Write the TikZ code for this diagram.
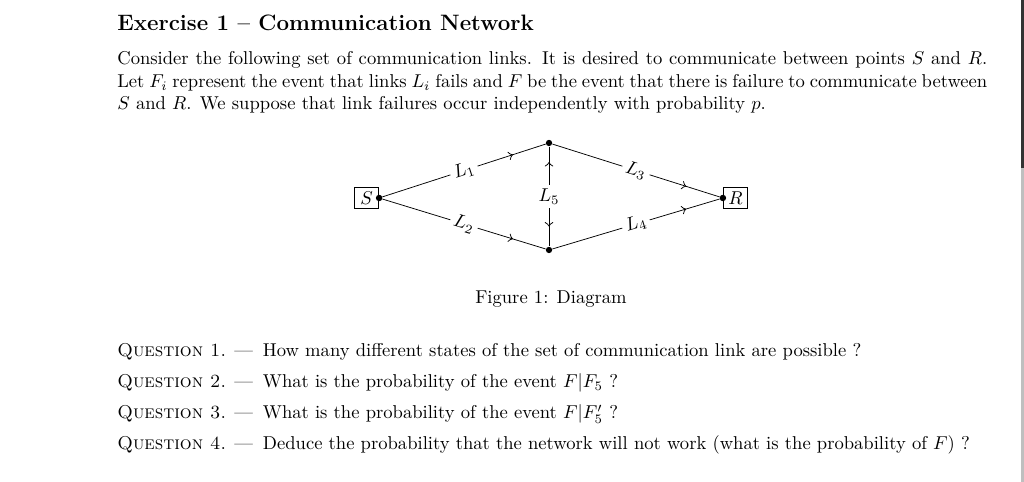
\documentclass[tikz,border=0pt]{standalone}
\usepackage{amsmath}
\usepackage{amssymb}
\usetikzlibrary{arrows,positioning,decorations.markings}
\tikzstyle{dot} = [circle, fill=black, inner sep=0pt, minimum size=3.4pt]
\tikzstyle{endbox} = [draw, fill=white, inner sep=0pt, minimum width=13pt, minimum height=11pt]
\tikzstyle{link} = [draw, postaction={decorate}, decoration={markings, mark=at position 0.8 with {\arrow[scale=1.3]{to}}}]
\tikzstyle{bilink} = [draw, postaction={decorate}, decoration={markings, mark=at position 0.2 with {\arrow[scale=1.3]{to reversed}}, mark=at position 0.8 with {\arrow[scale=1.3]{to}}}]
\tikzstyle{linklabel} = [fill=white, inner sep=2pt]
\tikzstyle{textline} = [anchor=base west, inner sep=0pt]
\tikzstyle{para} = [textline, text width=468pt, align=justify]
\newcommand{\question}[3]{node (q#1) [textline] {\textsc{Question #2.}\kern1pt\ ---\ \kern2pt #3}}

\begin{document}
\begin{tikzpicture}[x=0.538pt,y=-0.538pt]
\useasboundingbox (0,0) rectangle (1024,482);
% heading and statement
\node (title) [textline] at (117,31) {\large\bfseries Exercise 1 -- Communication Network};
\node (intro) [para] at (117,65) {Consider the following set of communication links. It is desired to communicate between points $S$ and $R$. Let $F_i$ represent the event that links $L_i$ fails and $F$ be the event that there is failure to communicate between $S$ and $R$. We suppose that link failures occur independently with probability $p$.};

% network
\node (s) [dot] at (379,198) {};
\node (sbox) [endbox, anchor=east] at (s.center) {$S$};
\path (s)+(170,-55) node (t) [dot] {};
\path (s)+(170,52) node (b) [dot] {};
\path (s)+(344,0) node (r) [dot] {};
\node (rbox) [endbox, anchor=west] at (r.center) {$R$};
\path [link] (s) -- node[linklabel,sloped] {$L_1$} (t);
\path [link] (s) -- node[linklabel,sloped] {$L_2$} (b);
\path [link] (t) -- node[linklabel,sloped] {$L_3$} (r);
\path [link] (b) -- node[linklabel,sloped] {$L_4$} (r);
\path [bilink] (t) -- node[linklabel] {$L_5$} (b);
\node (s) [dot] at (379,198) {};
\node (r) [dot] at (723,198) {};

\node (caption) [anchor=base] at (551,304) {Figure 1: Diagram};

% questions
\path (117,357) \question{1}{1}{How many different states of the set of communication link are possible ?};
\path (117,388) \question{2}{2}{What is the probability of the event $F|F_5$ ?};
\path (117,419) \question{3}{3}{What is the probability of the event $F|F_5'$ ?};
\path (117,450) \question{4}{4}{Deduce the probability that the network will not work (what is the probability of $F$) ?};

% scroll bar
\fill [black!80] (1021,0) rectangle (1024,168);
\fill [black!25] (1021,168) rectangle (1024,482);
\end{tikzpicture}
\end{document}
